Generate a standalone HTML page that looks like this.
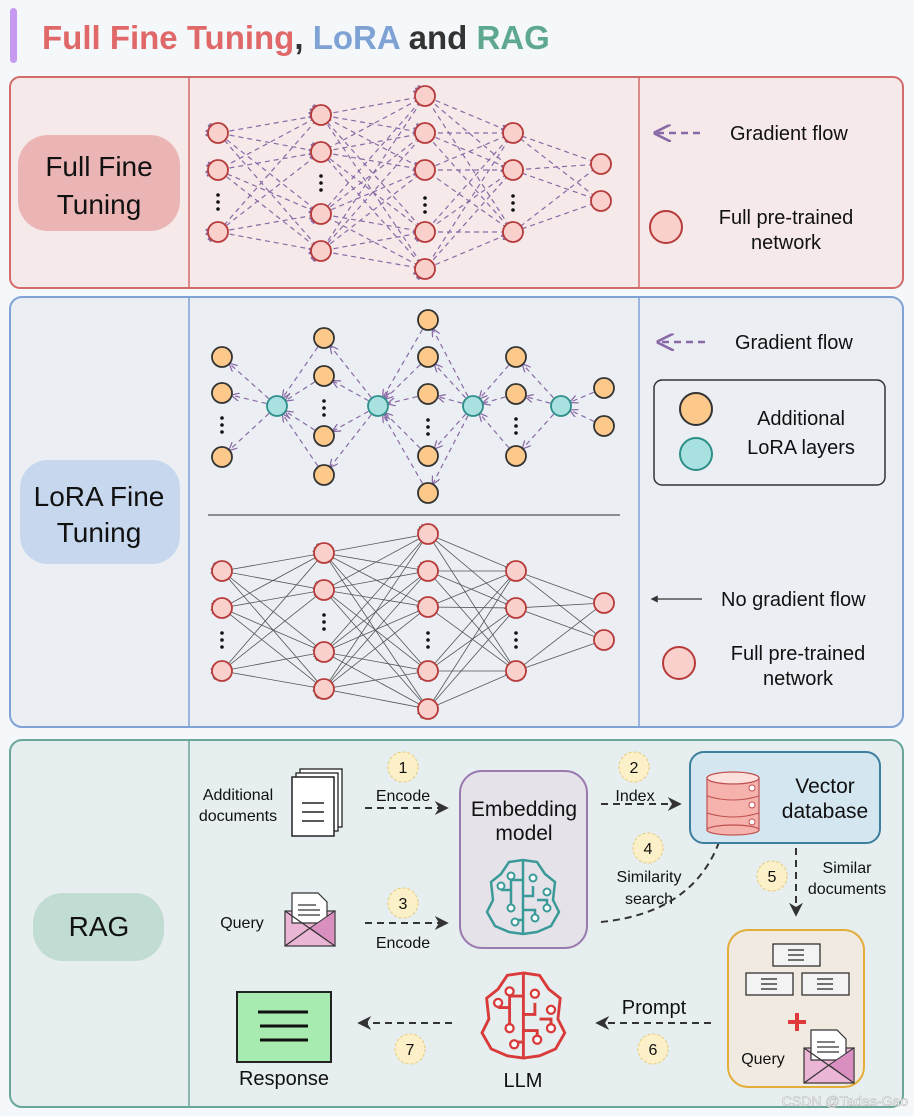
<!DOCTYPE html>
<html><head><meta charset="utf-8"><style>
html,body{margin:0;padding:0;background:#f4f8fa;}
svg{display:block;font-family:"Liberation Sans",sans-serif;}
</style></head><body>
<svg id="s" width="914" height="1116" viewBox="0 0 914 1116" xmlns="http://www.w3.org/2000/svg">
<defs>
<marker id="ap" viewBox="0 0 10 10" refX="8" refY="5" markerWidth="7" markerHeight="7" orient="auto-start-reverse"><path d="M0,0 L10,5 L0,10" fill="none" stroke="#8a6aa6" stroke-width="1.5"/></marker>
<marker id="ag" viewBox="0 0 10 10" refX="8" refY="5" markerWidth="6" markerHeight="6" orient="auto-start-reverse"><path d="M0,0 L10,5 L0,10 z" fill="#333"/></marker>
<marker id="ad" viewBox="0 0 10 10" refX="8" refY="5" markerWidth="7" markerHeight="7" orient="auto-start-reverse"><path d="M0,0 L10,5 L0,10 L3,5 z" fill="#333"/></marker>
</defs>
<rect width="914" height="1116" fill="#f4f8fa"/>
<rect x="10" y="8" width="7" height="55" rx="3.5" fill="#c79af2"/>
<text x="42" y="49" font-size="33" font-weight="bold"><tspan fill="#e06868">Full Fine Tuning</tspan><tspan fill="#333">, </tspan><tspan fill="#7ea2d4">LoRA</tspan><tspan fill="#333"> and </tspan><tspan fill="#5fa890">RAG</tspan></text>

<!-- Panel 1 -->
<rect x="10" y="77" width="893" height="211" rx="10" fill="#f5e9e9" stroke="#d36b6b" stroke-width="2"/>
<line x1="189" y1="77" x2="189" y2="288" stroke="#d36b6b" stroke-width="1.5"/>
<line x1="639" y1="77" x2="639" y2="288" stroke="#d36b6b" stroke-width="1.5"/>
<rect x="18" y="135" width="162" height="96" rx="30" fill="#ebb5b5"/>
<text x="99" y="176" font-size="28" text-anchor="middle" fill="#111">Full Fine</text>
<text x="99" y="214" font-size="28" text-anchor="middle" fill="#111">Tuning</text>
<g id="n1"></g>
<line x1="700" y1="133" x2="657" y2="133" stroke="#8a6aa6" stroke-width="2.5" stroke-dasharray="7,5" marker-end="url(#ap)"/>
<text x="730" y="140" font-size="20" fill="#111">Gradient flow</text>
<circle cx="666" cy="227" r="16" fill="#f9d0cc" stroke="#b83b3b" stroke-width="2"/>
<text x="786" y="224" font-size="20" text-anchor="middle" fill="#111">Full pre-trained</text>
<text x="786" y="249" font-size="20" text-anchor="middle" fill="#111">network</text>

<!-- Panel 2 -->
<rect x="10" y="297" width="893" height="430" rx="12" fill="#ebeff4" stroke="#7fa3d6" stroke-width="2"/>
<line x1="189" y1="297" x2="189" y2="727" stroke="#7fa3d6" stroke-width="1.5"/>
<line x1="639" y1="297" x2="639" y2="727" stroke="#7fa3d6" stroke-width="1.5"/>
<rect x="20" y="460" width="160" height="104" rx="28" fill="#c7d7ee"/>
<text x="99" y="506" font-size="28" text-anchor="middle" fill="#111">LoRA Fine</text>
<text x="99" y="542" font-size="28" text-anchor="middle" fill="#111">Tuning</text>
<g id="n2"></g>
<line x1="208" y1="515" x2="620" y2="515" stroke="#555" stroke-width="1.2"/>
<g id="n3"></g>
<line x1="705" y1="342" x2="660" y2="342" stroke="#8a6aa6" stroke-width="2.5" stroke-dasharray="7,5" marker-end="url(#ap)"/>
<text x="735" y="349" font-size="20" fill="#111">Gradient flow</text>
<rect x="654" y="380" width="231" height="105" rx="8" fill="#ebeff4" stroke="#333" stroke-width="1.5"/>
<circle cx="696" cy="409" r="16" fill="#fcc98a" stroke="#333" stroke-width="2"/>
<circle cx="696" cy="454" r="16" fill="#a9e0e0" stroke="#2e8f8a" stroke-width="2"/>
<text x="801" y="425" font-size="20" text-anchor="middle" fill="#111">Additional</text>
<text x="801" y="454" font-size="20" text-anchor="middle" fill="#111">LoRA layers</text>
<line x1="702" y1="599" x2="652" y2="599" stroke="#333" stroke-width="1.2" marker-end="url(#ag)"/>
<text x="721" y="606" font-size="20" fill="#111">No gradient flow</text>
<circle cx="679" cy="663" r="16" fill="#f9d0cc" stroke="#b83b3b" stroke-width="2"/>
<text x="798" y="660" font-size="20" text-anchor="middle" fill="#111">Full pre-trained</text>
<text x="798" y="685" font-size="20" text-anchor="middle" fill="#111">network</text>

<!-- Panel 3 -->
<rect x="10" y="740" width="893" height="367" rx="12" fill="#e6eeef" stroke="#6aa699" stroke-width="2"/>
<line x1="189" y1="740" x2="189" y2="1107" stroke="#6aa699" stroke-width="1.5"/>
<rect x="33" y="893" width="131" height="68" rx="30" fill="#c1dcd3"/>
<text x="99" y="936" font-size="28" text-anchor="middle" fill="#111">RAG</text>

<text x="238" y="800" font-size="16" text-anchor="middle" fill="#111">Additional</text>
<text x="238" y="821" font-size="16" text-anchor="middle" fill="#111">documents</text>
<rect x="300" y="769" width="42" height="58" fill="#fff" stroke="#222" stroke-width="1.3"/>
<rect x="296" y="773" width="42" height="58" fill="#fff" stroke="#222" stroke-width="1.3"/>
<rect x="292" y="777" width="42" height="59" fill="#fff" stroke="#222" stroke-width="1.5"/>
<path d="M302 803h22M302 812h22M302 821h22" stroke="#222" stroke-width="1.5"/>
<text x="242" y="928" font-size="16" text-anchor="middle" fill="#111">Query</text>
<g id="env1" transform="translate(285,893)"></g>
<g id="nums"></g>
<g font-size="16" fill="#111" text-anchor="middle">
<text x="403" y="801">Encode</text>
<text x="403" y="948">Encode</text>
<text x="635" y="801">Index</text>
<text x="649" y="882">Similarity</text>
<text x="649" y="904">search</text>
<text x="847" y="873">Similar</text>
<text x="847" y="894">documents</text>
</g>
<g stroke="#333" stroke-width="2" stroke-dasharray="7,5" fill="none">
<line x1="365" y1="808" x2="446" y2="808" marker-end="url(#ad)"/>
<line x1="365" y1="923" x2="446" y2="923" marker-end="url(#ad)"/>
<line x1="601" y1="804" x2="679" y2="804" marker-end="url(#ad)"/>
<path d="M601 922 Q700 912 723 830" marker-end="url(#ad)"/>
<line x1="796" y1="848" x2="796" y2="914" marker-end="url(#ad)"/>
<line x1="711" y1="1023" x2="598" y2="1023" marker-end="url(#ad)"/>
<line x1="452" y1="1023" x2="360" y2="1023" marker-end="url(#ad)"/>
</g>
<rect x="460" y="771" width="127" height="177" rx="22" fill="#e6e2ea" stroke="#9a7bb0" stroke-width="2"/>
<text x="524" y="816" font-size="21" text-anchor="middle" fill="#111">Embedding</text>
<text x="524" y="840" font-size="21" text-anchor="middle" fill="#111">model</text>
<g id="brain1" transform="translate(487,860)" stroke="#3a9a98"></g>
<rect x="690" y="752" width="190" height="91" rx="14" fill="#d4e7f0" stroke="#3d7f9c" stroke-width="2"/>
<g transform="translate(707,770)">
<rect x="0" y="8" width="52" height="52" fill="#f6b3ad" stroke="#c05050" stroke-width="1.2"/>
<ellipse cx="26" cy="8" rx="26" ry="6" fill="#fde0dc" stroke="#c05050" stroke-width="1.2"/>
<path d="M0 26 q26 8 52 0 M0 43 q26 8 52 0" fill="none" stroke="#c05050"/>
<ellipse cx="26" cy="60" rx="26" ry="5" fill="#f6b3ad" stroke="#c05050" stroke-width="1.2"/>
<circle cx="45" cy="18" r="3" fill="#fff" stroke="#c05050"/><circle cx="45" cy="35" r="3" fill="#fff" stroke="#c05050"/><circle cx="45" cy="52" r="3" fill="#fff" stroke="#c05050"/>
</g>
<text x="825" y="793" font-size="21" text-anchor="middle" fill="#111">Vector</text>
<text x="825" y="818" font-size="21" text-anchor="middle" fill="#111">database</text>
<rect x="728" y="930" width="136" height="157" rx="20" fill="#f0eae0" stroke="#e3ad3a" stroke-width="2"/>
<g fill="#f3f3f3" stroke="#222" stroke-width="1.2">
<rect x="773" y="944" width="47" height="22"/><rect x="746" y="973" width="47" height="22"/><rect x="802" y="973" width="47" height="22"/>
</g>
<path d="M788 950h16M788 955h16M788 960h16M761 979h16M761 984h16M761 989h16M817 979h16M817 984h16M817 989h16" stroke="#222" stroke-width="1.2"/>
<path d="M797 1013v18M788 1022h18" stroke="#e0393b" stroke-width="4"/>
<text x="763" y="1064" font-size="16" text-anchor="middle" fill="#111">Query</text>
<g id="env2" transform="translate(804,1030)"></g>
<g id="brain2" transform="translate(482,973) scale(1.15)" stroke="#d93a3a"></g>
<text x="523" y="1087" font-size="20" text-anchor="middle" fill="#111">LLM</text>
<text x="654" y="1014" font-size="20" text-anchor="middle" fill="#111">Prompt</text>
<rect x="237" y="992" width="94" height="70" fill="#a8ebb0" stroke="#222" stroke-width="2"/>
<path d="M258 1012h50M260 1026h48M260 1040h48" stroke="#111" stroke-width="3"/>
<text x="284" y="1085" font-size="20" text-anchor="middle" fill="#111">Response</text>
<text x="908" y="1106" font-size="14" text-anchor="end" fill="#fff" stroke="#bbb" stroke-width="0.6">CSDN @Tadas-Gao</text>
</svg>
<script>
var NS="http://www.w3.org/2000/svg";
function el(p,t,a){var e=document.createElementNS(NS,t);for(var k in a)e.setAttribute(k,a[k]);p.appendChild(e);return e;}
function dots(g,x,y){for(var i=-1;i<=1;i++)el(g,"circle",{cx:x,cy:y+i*7,r:1.8,fill:"#111"});}
function net(id,L,D,style,fill,stroke){
 var g=document.getElementById(id);
 for(var i=0;i<L.length-1;i++){var a=L[i],b=L[i+1];
  a.y.forEach(function(ya){b.y.forEach(function(yb){
   var dx=a.x-b.x,dy=ya-yb,d=Math.sqrt(dx*dx+dy*dy),r=11;
   var o=Object.assign({x1:b.x-dx/d*r,y1:yb-dy/d*r,x2:a.x+dx/d*r,y2:ya+dy/d*r},style);
   el(g,"line",o);});});}
 L.forEach(function(l,i){l.y.forEach(function(y){el(g,"circle",{cx:l.x,cy:y,r:l.r||10,fill:l.f||fill,stroke:l.s||stroke,"stroke-width":1.8});});});
 D.forEach(function(d){dots(g,d[0],d[1]);});
}
var dash={stroke:"#8a6aa6","stroke-width":1.2,"stroke-dasharray":"5,4","marker-end":"url(#ap)"};
net("n1",[{x:218,y:[133,170,232]},{x:321,y:[115,152,214,251]},{x:425,y:[96,133,170,232,269]},{x:513,y:[133,170,232]},{x:601,y:[164,201]}],
 [[218,202],[321,183],[425,205],[513,203]],dash,"#f9d0cc","#b83b3b");
net("n3",[{x:222,y:[571,608,671]},{x:324,y:[553,590,652,689]},{x:428,y:[534,571,607,671,709]},{x:516,y:[571,608,671]},{x:604,y:[603,640]}],
 [[222,640],[324,622],[428,640],[516,640]],{stroke:"#555","stroke-width":0.8,"marker-end":"url(#ag)"},"#f9d0cc","#b83b3b");
var g2=document.getElementById("n2");
var Ls=[{x:222,y:[357,393,457]},{x:324,y:[338,376,436,475]},{x:428,y:[320,357,394,456,493]},{x:516,y:[357,394,456]},{x:604,y:[388,426]}];
var T=[277,378,473,561];
function ln(x1,y1,x2,y2,r1,r2){var dx=x2-x1,dy=y2-y1,d=Math.sqrt(dx*dx+dy*dy);el(g2,"line",Object.assign({x1:x1+dx/d*r1,y1:y1+dy/d*r1,x2:x2-dx/d*r2,y2:y2-dy/d*r2},dash));}
for(var i=0;i<4;i++){Ls[i+1].y.forEach(function(y){ln(Ls[i+1].x,y,T[i],406,11,11);});Ls[i].y.forEach(function(y){ln(T[i],406,Ls[i].x,y,11,11);});}
Ls.forEach(function(l){l.y.forEach(function(y){el(g2,"circle",{cx:l.x,cy:y,r:10,fill:"#fcc98a",stroke:"#333","stroke-width":1.8});});});
T.forEach(function(x){el(g2,"circle",{cx:x,cy:406,r:10,fill:"#a9e0e0",stroke:"#2e8f8a","stroke-width":1.8});});
[[222,425],[324,408],[428,427],[516,426]].forEach(function(d){dots(g2,d[0],d[1]);});
var nm=document.getElementById("nums");
[[403,767,"1"],[634,767,"2"],[403,903,"3"],[648,848,"4"],[772,876,"5"],[653,1049,"6"],[410,1049,"7"]].forEach(function(n){
 el(nm,"circle",{cx:n[0],cy:n[1],r:15,fill:"#fbf0c8",stroke:"#e8cc78","stroke-width":1,"stroke-dasharray":"3,2"});
 var t=el(nm,"text",{x:n[0],y:n[1]+6,"font-size":16,"text-anchor":"middle",fill:"#111"});t.textContent=n[2];});
function env(id){var g=document.getElementById(id);
 el(g,"rect",{x:0,y:18,width:50,height:35,fill:"#ebb5d5",stroke:"#333","stroke-width":1.2});
 el(g,"path",{d:"M7 22 V0 H33 L42 9 V30 H7z",fill:"#fff",stroke:"#333","stroke-width":1.2});
 el(g,"path",{d:"M13 12h18M13 17h22M13 22h22",stroke:"#333","stroke-width":1.2});
 el(g,"path",{d:"M0 18 L50 53 M0 53 L25 35 M50 18 L32 31",fill:"none",stroke:"#333","stroke-width":1.2});
 el(g,"path",{d:"M50 18 L50 53 L25 35z",fill:"#d98fc0",stroke:"#333","stroke-width":1});}
env("env1");env("env2");
function brain(id){var g=document.getElementById(id);
 var a={fill:"none","stroke-width":2.5};
 el(g,"path",Object.assign({d:"M36 0 L22 2 L14 14 L4 22 L6 40 L0 52 L8 66 L22 72 L36 74 L50 72 L64 66 L72 52 L66 40 L68 22 L58 14 L50 2 Z M36 0 V74"},a));
 el(g,"path",Object.assign({d:"M36 20 H24 V40 M24 40 V52 M36 36 H46 V26 M36 50 H48 V62 M36 60 H28 V66 M14 30 H24 M50 40 H60 V52"},a));
 [[24,20],[24,52],[46,22],[48,62],[28,66],[14,30],[60,36],[60,52]].forEach(function(p){el(g,"circle",{cx:p[0],cy:p[1]-4,r:3.5,fill:"#fff","stroke-width":2});});}
brain("brain1");brain("brain2");
</script>
</body></html>
